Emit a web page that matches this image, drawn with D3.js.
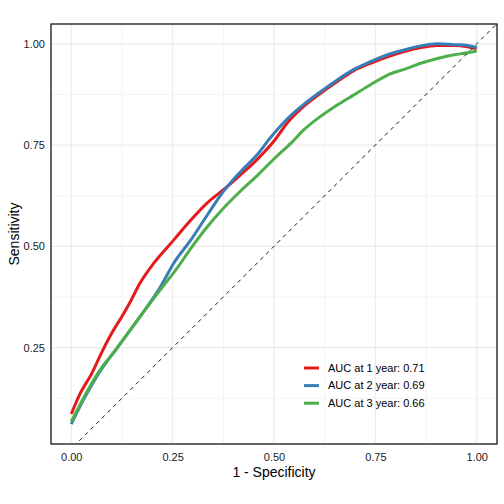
<!DOCTYPE html>
<html>
<head>
<meta charset="utf-8">
<script src="https://cdn.jsdelivr.net/npm/d3@7"></script>
<style>
  body { margin: 0; background: #fff; }
  text { font-family: "Liberation Sans", Arial, sans-serif; }
</style>
</head>
<body>
<svg width="504" height="504"></svg>
<script>
// ROC curves
const labels = ['AUC at 1 year: 0.71', 'AUC at 2 year: 0.69', 'AUC at 3 year: 0.66'];
const colors = ['#E41A1C', '#377EB8', '#4DAF4A'];

const fpr1 = [0, 0.022, 0.051, 0.076, 0.100, 0.125, 0.146, 0.170, 0.204, 0.253, 0.295, 0.336, 0.377, 0.418, 0.460, 0.500, 0.533, 0.574, 0.615, 0.656, 0.697, 0.738, 0.780, 0.821, 0.862, 0.903, 0.944, 0.977, 1.0];
const tpr1 = [0.086, 0.137, 0.187, 0.240, 0.286, 0.327, 0.364, 0.410, 0.459, 0.516, 0.565, 0.608, 0.641, 0.677, 0.716, 0.760, 0.805, 0.846, 0.878, 0.907, 0.934, 0.952, 0.968, 0.981, 0.991, 0.996, 0.996, 0.993, 0.988];

const fpr2 = [0, 0.030, 0.063, 0.113, 0.170, 0.220, 0.253, 0.295, 0.336, 0.377, 0.418, 0.460, 0.491, 0.533, 0.574, 0.615, 0.656, 0.697, 0.738, 0.780, 0.821, 0.862, 0.903, 0.944, 0.977, 1.0];
const tpr2 = [0.061, 0.121, 0.179, 0.249, 0.327, 0.400, 0.459, 0.516, 0.578, 0.638, 0.685, 0.728, 0.768, 0.815, 0.851, 0.882, 0.911, 0.937, 0.956, 0.973, 0.985, 0.995, 1.000, 0.998, 0.996, 0.991];

const fpr3 = [0, 0.030, 0.063, 0.113, 0.170, 0.220, 0.261, 0.295, 0.336, 0.377, 0.418, 0.460, 0.501, 0.542, 0.574, 0.615, 0.656, 0.697, 0.738, 0.780, 0.821, 0.862, 0.903, 0.944, 0.977, 1.0];
const tpr3 = [0.067, 0.125, 0.183, 0.249, 0.327, 0.393, 0.446, 0.495, 0.549, 0.596, 0.637, 0.676, 0.717, 0.755, 0.788, 0.821, 0.849, 0.874, 0.899, 0.923, 0.937, 0.952, 0.964, 0.973, 0.978, 0.982];

const ticks = [0, 0.25, 0.5, 0.75, 1];
const minorTicks = [0.125, 0.375, 0.625, 0.875];

const series = [[fpr1, tpr1], [fpr2, tpr2], [fpr3, tpr3]].map(([xs, ys], i) => ({
  label: labels[i],
  color: colors[i],
  values: xs.map((x, j) => [x, ys[j]])
}));

const svg = d3.select('svg');
const pLeft = 51, pRight = 497, pTop = 24, pBottom = 444;

const x = d3.scaleLinear().domain([-0.05, 1.05]).range([pLeft, pRight]);
const y = d3.scaleLinear().domain([0.012, 1.049]).range([pBottom, pTop]);

svg.append('defs').append('clipPath').attr('id', 'panel')
  .append('rect')
  .attr('x', pLeft).attr('y', pTop)
  .attr('width', pRight - pLeft).attr('height', pBottom - pTop);

const grid = svg.append('g');

// minor grid
grid.selectAll('.vminor').data(minorTicks).join('line')
  .attr('class', 'vminor')
  .attr('x1', d => x(d)).attr('x2', d => x(d))
  .attr('y1', pTop).attr('y2', pBottom)
  .attr('stroke', '#EBEBEB').attr('stroke-width', 0.6);
grid.selectAll('.hminor').data(minorTicks).join('line')
  .attr('class', 'hminor')
  .attr('y1', d => y(d)).attr('y2', d => y(d))
  .attr('x1', pLeft).attr('x2', pRight)
  .attr('stroke', '#EBEBEB').attr('stroke-width', 0.6);

// major grid
grid.selectAll('.vmajor').data(ticks).join('line')
  .attr('class', 'vmajor')
  .attr('x1', d => x(d)).attr('x2', d => x(d))
  .attr('y1', pTop).attr('y2', pBottom)
  .attr('stroke', '#EBEBEB').attr('stroke-width', 1.1);
grid.selectAll('.hmajor').data(ticks.filter(d => d > 0)).join('line')
  .attr('class', 'hmajor')
  .attr('y1', d => y(d)).attr('y2', d => y(d))
  .attr('x1', pLeft).attr('x2', pRight)
  .attr('stroke', '#EBEBEB').attr('stroke-width', 1.1);

const plot = svg.append('g').attr('clip-path', 'url(#panel)');

const line = d3.line()
  .curve(d3.curveMonotoneX)
  .x(d => x(d[0])).y(d => y(d[1]));

plot.selectAll('.roc').data(series).join('path')
  .attr('class', 'roc')
  .attr('d', d => line(d.values))
  .attr('fill', 'none')
  .attr('stroke', d => d.color)
  .attr('stroke-width', 3)
  .attr('stroke-linejoin', 'round');

// reference diagonal
plot.append('line')
  .attr('x1', x(-0.05)).attr('y1', y(-0.05))
  .attr('x2', x(1.05)).attr('y2', y(1.05))
  .attr('stroke', '#000')
  .attr('stroke-width', 0.9)
  .attr('stroke-dasharray', '4,4');

// panel border
svg.append('rect')
  .attr('x', pLeft).attr('y', pTop)
  .attr('width', pRight - pLeft).attr('height', pBottom - pTop)
  .attr('fill', 'none').attr('stroke', '#000').attr('stroke-width', 1.2);

// axes (no tick marks)
const xAxis = svg.append('g')
  .attr('transform', `translate(0,${pBottom})`)
  .call(d3.axisBottom(x).tickValues(ticks).tickFormat(d3.format('.2f')).tickSize(0).tickPadding(9));
const yAxis = svg.append('g')
  .attr('transform', `translate(${pLeft},0)`)
  .call(d3.axisLeft(y).tickValues(ticks.filter(d => d > 0)).tickFormat(d3.format('.2f')).tickSize(0).tickPadding(6));
[xAxis, yAxis].forEach(a => {
  a.select('.domain').remove();
  a.selectAll('text')
    .attr('font-family', '"Liberation Sans", Arial, sans-serif')
    .attr('font-size', 11)
    .attr('fill', '#1a1a1a');
});

svg.append('text')
  .attr('x', (pLeft + pRight) / 2).attr('y', 477)
  .attr('text-anchor', 'middle')
  .attr('font-size', 14)
  .attr('fill', '#000')
  .text('1 - Specificity');

svg.append('text')
  .attr('transform', `translate(19,${(pTop + pBottom) / 2}) rotate(-90)`)
  .attr('text-anchor', 'middle')
  .attr('font-size', 14)
  .attr('fill', '#000')
  .text('Sensitivity');

// legend
const legend = svg.append('g').attr('transform', 'translate(304,368)');
const item = legend.selectAll('g').data(series).join('g')
  .attr('transform', (d, i) => `translate(0,${i * 17.6})`);
item.append('line')
  .attr('x1', 0).attr('x2', 15)
  .attr('stroke', d => d.color)
  .attr('stroke-width', 3);
item.append('text')
  .attr('x', 24).attr('dy', '0.35em')
  .attr('font-size', 11)
  .attr('fill', '#000')
  .text(d => d.label);
</script>
</body>
</html>
